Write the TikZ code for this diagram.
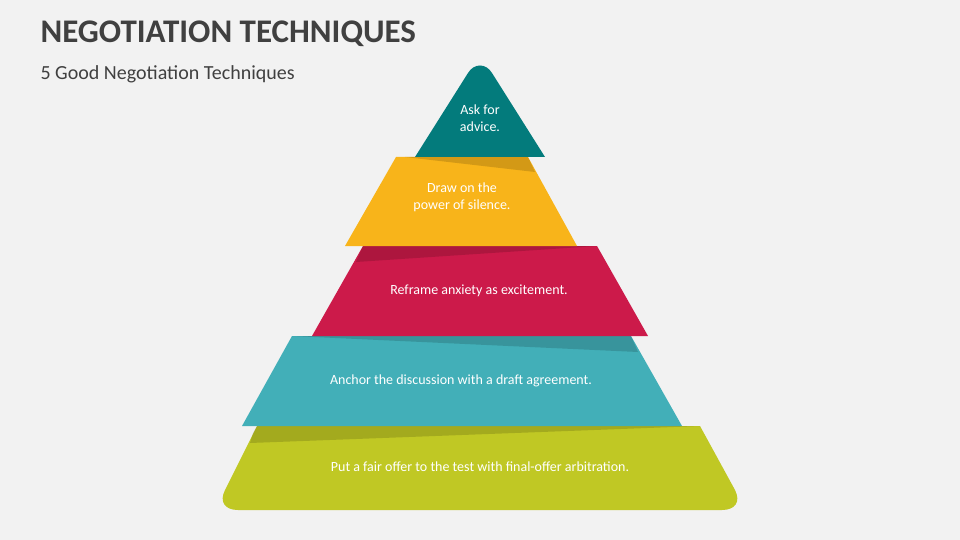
\documentclass[tikz,border=0pt]{standalone}
\usepackage{fontspec}
\setmainfont{Carlito}
\usetikzlibrary{positioning}
\definecolor{bgGray}{HTML}{F2F2F2}
\definecolor{tealTop}{HTML}{037B7C}
\definecolor{yellowBand}{HTML}{F8B41A}
\definecolor{redBand}{HTML}{CC1A4A}
\definecolor{blueBand}{HTML}{42AFB8}
\definecolor{greenBand}{HTML}{C0C824}
\definecolor{titleGray}{HTML}{404040}
\begin{document}
\begin{tikzpicture}[x=1pt,y=-1pt,
            band/.style={draw=none},
            fold/.style={fill=black,fill opacity=0.15},
            label/.style={text=white,align=center,font=\fontsize{14}{17}\selectfont}]

        \fill[bgGray] (0,0) rectangle (960,540);

        % title
        \node[anchor=west,text=titleGray,font=\fontsize{33}{36}\selectfont\bfseries] (title) at (37,34) {NEGOTIATION TECHNIQUES};
        \node[anchor=west,text=titleGray,font=\fontsize{20}{24}\selectfont] (subtitle) at (37,74) {5 Good Negotiation Techniques};

        % bands, bottom first
        \fill[greenBand] (257,426) -- (700,426) -- (735,490)
            .. controls (741,502) and (735,510) .. (722,510) -- (238,510)
            .. controls (225,510) and (219,502) .. (225,490) -- cycle;
        \fill[fold] (257,426) -- (700,426) -- (250,443) -- (253,433) -- cycle;

        \fill[blueBand] (292,336) -- (631,336) -- (682,426) -- (242,426) -- cycle;
        \fill[fold] (292,336) -- (631,336) -- (638,352) -- cycle;

        \fill[redBand] (363,246) -- (597,246) -- (648,336) -- (312,336) -- cycle;
        \fill[fold] (363,246) -- (597,246) -- (356,262) -- cycle;

        \fill[yellowBand] (396,157) -- (528,157) -- (577,246) -- (345,246) -- cycle;
        \fill[fold] (405,157) -- (528,157) -- (535,172) -- cycle;

        \fill[tealTop] (415,157) -- (468,73)
            .. controls (474,63) and (486,63) .. (492,73) -- (545,157) -- cycle;

        % texts
        \node[label] (advice) at (480,118) {Ask for\\advice.};
        \node[label] (silence) at (462,197) {Draw on the\\power of silence.};
        \node[label] (reframe) at (479,291) {Reframe anxiety as excitement.};
        \node[label] (anchor) at (461,381) {Anchor the discussion with a draft agreement.};
        \node[label] (offer) at (480,467) {Put a fair offer to the test with final-offer arbitration.};
\end{tikzpicture}
\end{document}
